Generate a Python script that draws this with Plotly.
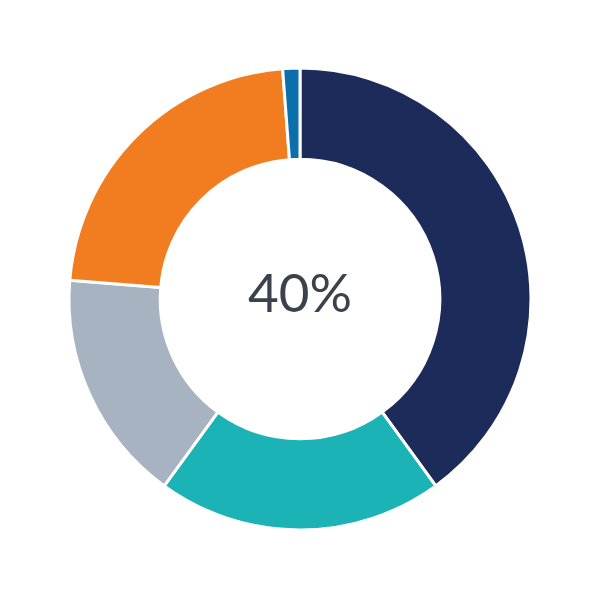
import plotly.graph_objects as go

# Slice data, clockwise from 12 o'clock
labels = ["A", "B", "C", "D", "E"]
values = [40, 20, 16.3, 22.5, 1.2]
colors = ["#1c2b5a", "#1bb3b6", "#a8b3c1", "#f27d21", "#0b6fab"]
center_text = "40%"

fig = go.Figure(go.Pie(
    labels=labels,
    values=values,
    hole=0.605,
    sort=False,
    direction="clockwise",
    rotation=0,
    marker=dict(colors=colors, line=dict(color="white", width=3)),
    textinfo="none",
    hoverinfo="label+percent",
))

fig.add_annotation(
    text=center_text, x=0.5, y=0.5, xref="paper", yref="paper",
    showarrow=False, yshift=8,
    font=dict(family="Lato", size=53, color="#3a424b"),
)

# page body has an 8px margin, so offset the plot area to compensate
fig.update_layout(
    width=600, height=599,
    margin=dict(l=61, r=77, t=60, b=77),
    paper_bgcolor="white",
    showlegend=False,
)

fig.write_html("out.html")
